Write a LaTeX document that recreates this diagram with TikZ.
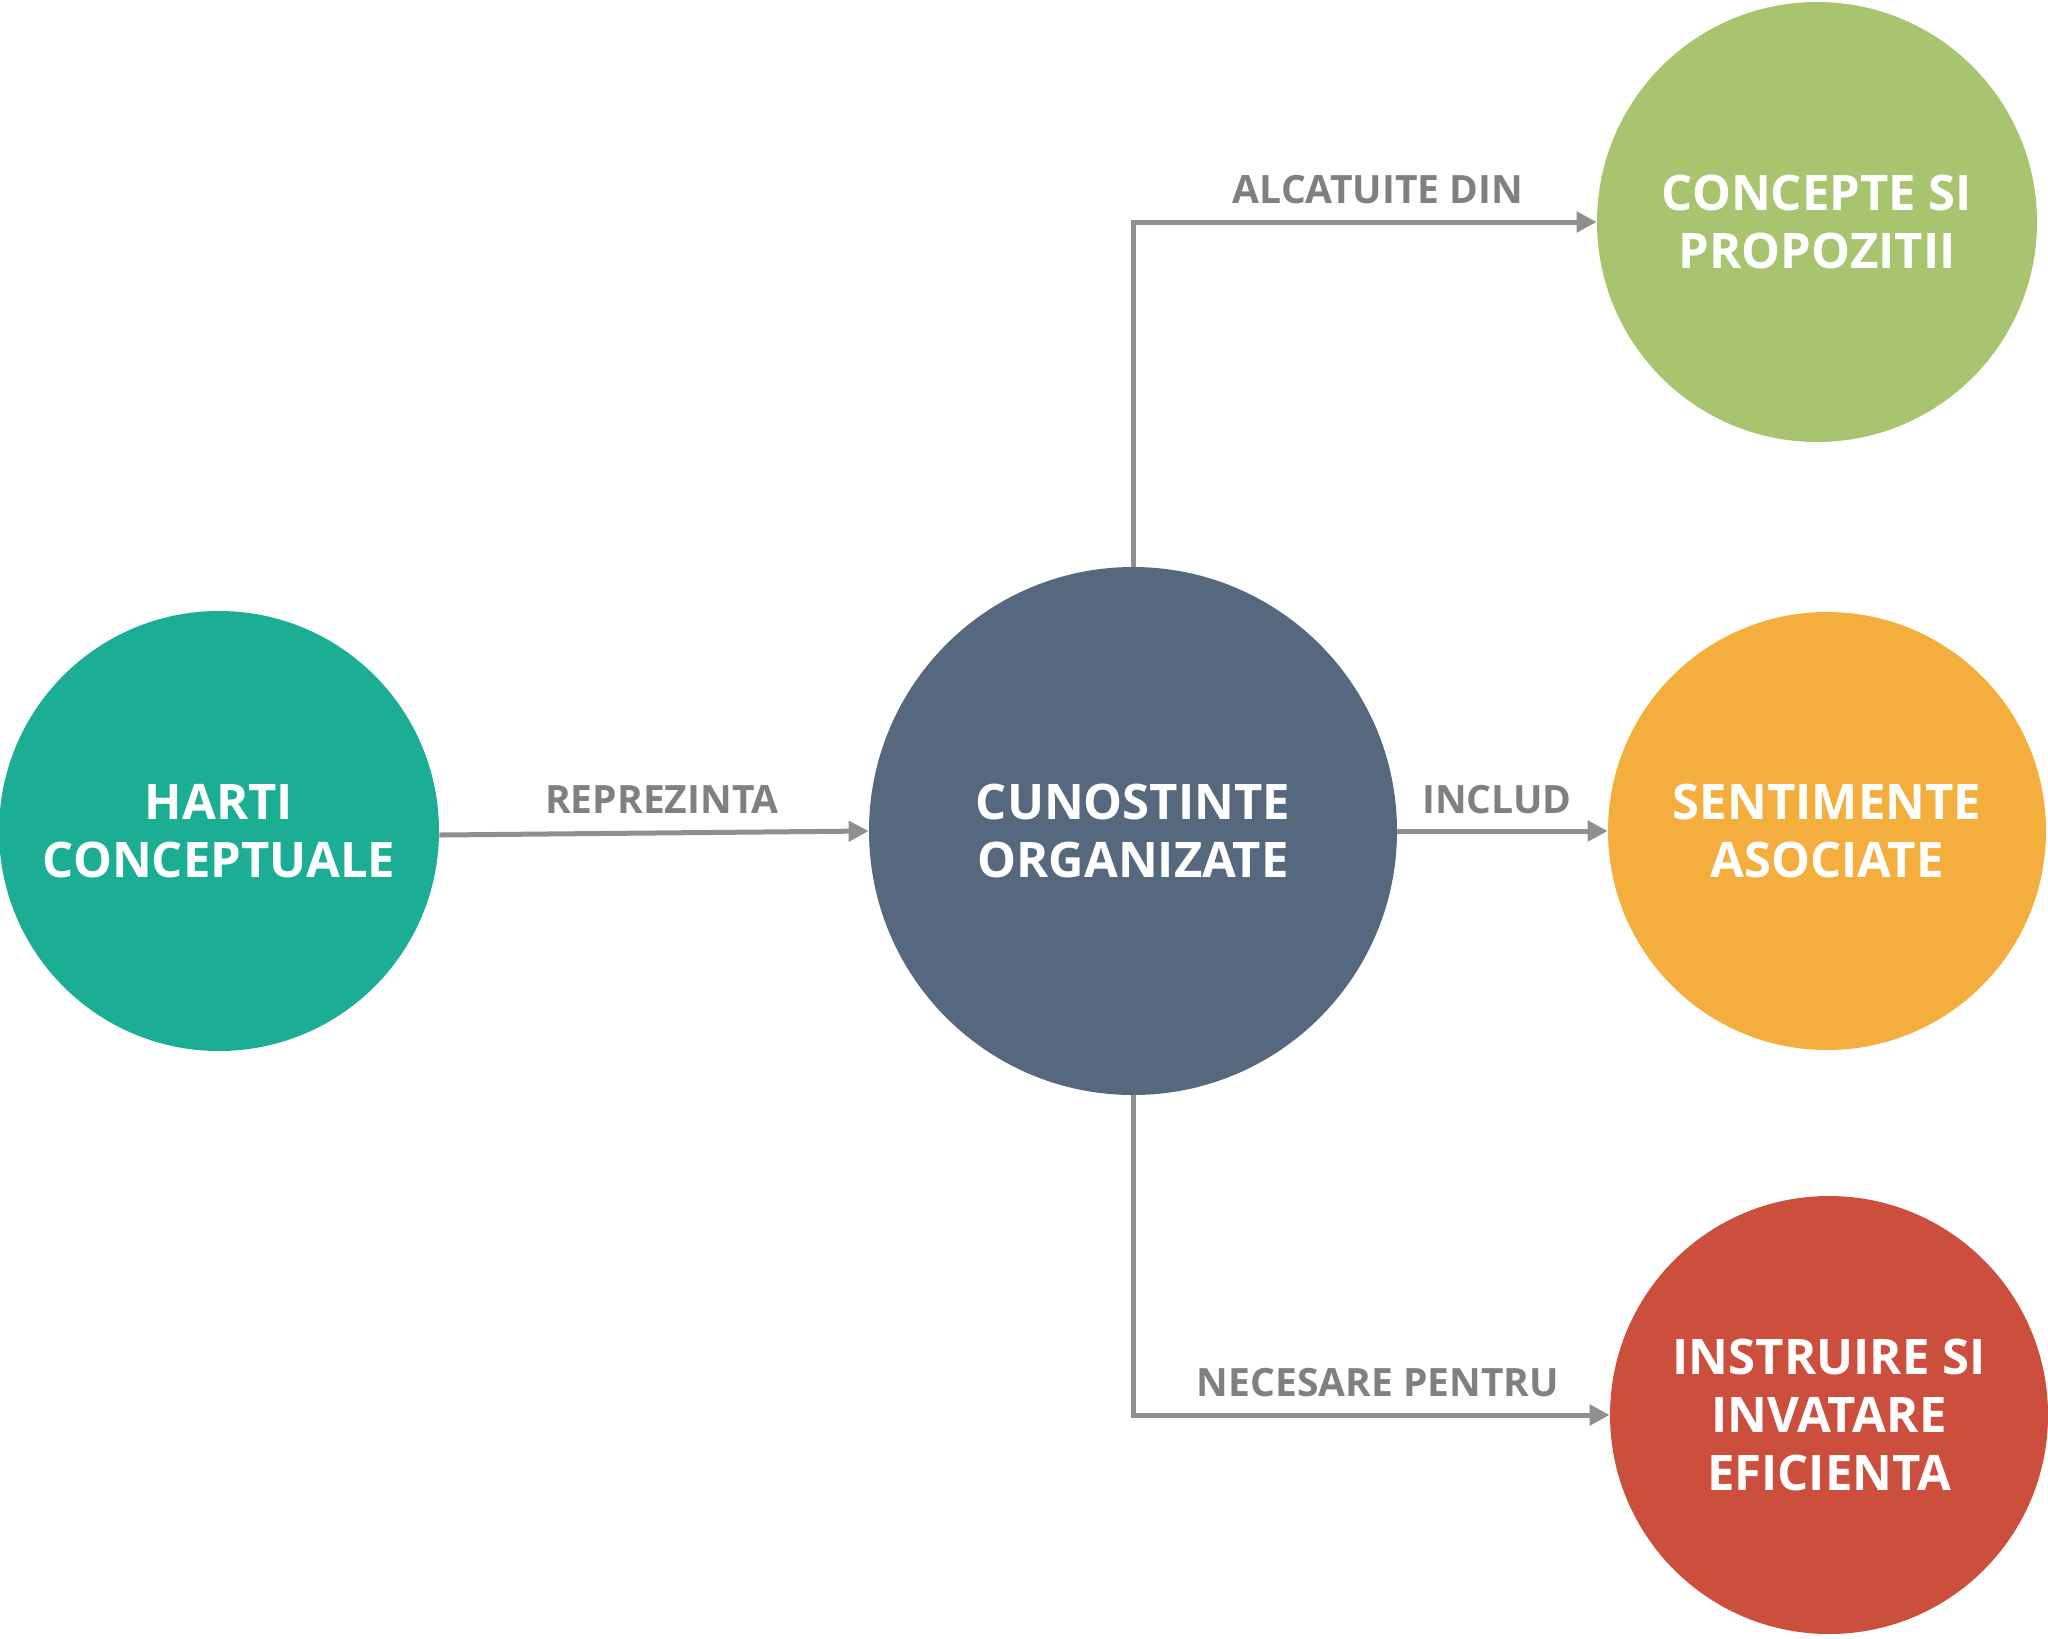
\documentclass[tikz,border=0pt]{standalone}
\usepackage{fontspec}
\setmainfont{Open Sans}[BoldFont={Open Sans Bold}]
\usetikzlibrary{arrows.meta}
\definecolor{cteal}{HTML}{1BAE94}
\definecolor{cslate}{HTML}{56687D}
\definecolor{cgreen}{HTML}{A9C46F}
\definecolor{corange}{HTML}{F3AE3D}
\definecolor{cred}{HTML}{CC4E3D}
\definecolor{cline}{HTML}{8F8F8F}
\definecolor{clabel}{HTML}{808080}
\tikzset{
  bubble/.style={circle, inner sep=0pt, text=white, align=center,
    font=\fontsize{24.5pt}{29pt}\selectfont\bfseries},
  link/.style={draw=cline, line width=2.5pt, -{Triangle[length=10pt,width=10pt]}},
  linklabel/.style={text=clabel, font=\fontsize{19.5pt}{23pt}\selectfont\bfseries, inner sep=0pt}
}
\begin{document}
\begin{tikzpicture}[x=0.5pt,y=-0.5pt]
\useasboundingbox (0,0) rectangle (2048,1638);
\node[bubble, fill=cteal, minimum size=220pt] (A) at (219,831) {HARTI\\CONCEPTUALE};
\node[bubble, fill=cslate, minimum size=264pt] (B) at (1133,831) {CUNOSTINTE\\ORGANIZATE};
\node[bubble, fill=cgreen, minimum size=220pt] (C) at (1817,222) {CONCEPTE SI\\PROPOZITII};
\node[bubble, fill=corange, minimum size=219pt] (D) at (1827,831) {SENTIMENTE\\ASOCIATE};
\node[bubble, fill=cred, minimum size=219pt] (E) at (1829,1415) {INSTRUIRE SI\\INVATARE\\EFICIENTA};
\draw[link] ([yshift=-2pt]A.east) -- (B.west);
\draw[link] (B.north) |- (C.west);
\draw[link] (B.east) -- (D.west);
\draw[link] (B.south) |- (E.west);
\node[linklabel] (l1) at (662,800) {REPREZINTA};
\node[linklabel] (l2) at (1378,190) {ALCATUITE DIN};
\node[linklabel] (l3) at (1497,800) {INCLUD};
\node[linklabel] (l4) at (1378,1383) {NECESARE PENTRU};
\end{tikzpicture}
\end{document}
